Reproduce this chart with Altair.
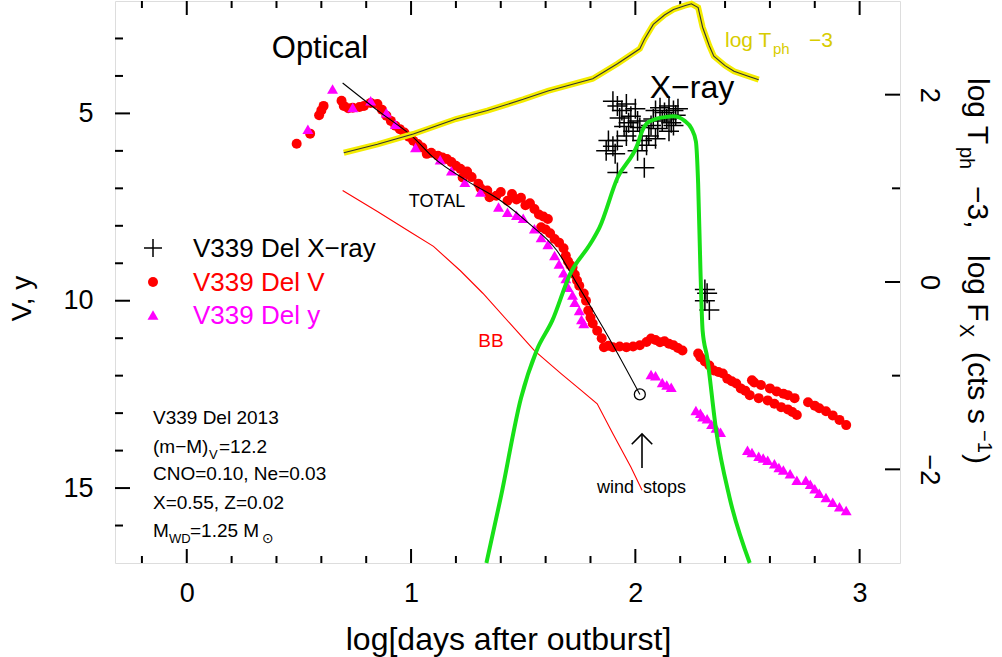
import altair as alt
import pandas as pd

# ---------------- data ----------------
v_logt = [0.49, 0.55, 0.59, 0.60, 0.61, 0.69, 0.70, 0.72, 0.74, 0.77, 0.79, 0.82, 0.85, 0.87,
          0.89, 0.91, 0.93, 0.95, 0.97, 0.99, 1.01, 1.03, 1.05, 1.07, 1.09, 1.12, 1.14, 1.16,
          1.18, 1.20, 1.22, 1.23, 1.25, 1.27, 1.30, 1.31, 1.34, 1.35, 1.38, 1.40, 1.43, 1.45,
          1.47, 1.49, 1.51, 1.53, 1.55, 1.57, 1.59, 1.61, 1.58, 1.60, 1.62, 1.64, 1.66, 1.68,
          1.69, 1.70, 1.71, 1.72, 1.73, 1.74, 1.75, 1.77, 1.78, 1.79, 1.80, 1.81, 1.83, 1.85,
          1.86, 1.88, 1.90, 1.93, 1.96, 1.99, 2.02, 2.05, 2.07, 2.09, 2.11, 2.13, 2.15, 2.17,
          2.19, 2.21, 2.28, 2.29, 2.31, 2.33, 2.35, 2.37, 2.39, 2.41, 2.43, 2.45, 2.47, 2.49,
          2.52, 2.53, 2.56, 2.60, 2.63, 2.66, 2.68, 2.71, 2.51, 2.55, 2.59, 2.62, 2.65, 2.68,
          2.70, 2.72, 2.77, 2.80, 2.82, 2.85, 2.88, 2.91, 2.94]
v_mag = [5.81, 5.54, 5.05, 4.92, 4.80, 4.66, 4.80, 4.86, 4.85, 4.83, 4.80, 4.72, 4.75, 4.90,
         5.06, 5.20, 5.33, 5.42, 5.51, 5.62, 5.73, 5.82, 5.91, 6.08, 6.05, 6.13, 6.18, 6.22,
         6.30, 6.40, 6.48, 6.71, 6.55, 6.70, 6.88, 7.00, 7.06, 7.24, 7.20, 7.10, 7.33, 7.15,
         7.30, 7.25, 7.45, 7.40, 7.55, 7.70, 7.75, 7.82, 8.04, 8.10, 8.20, 8.35, 8.45, 8.60,
         8.80, 8.95, 9.05, 9.11, 9.30, 9.46, 9.60, 9.81, 10.00, 10.26, 10.45, 10.61, 10.80, 11.00,
         11.24, 11.20, 11.24, 11.22, 11.24, 11.22, 11.19, 11.10, 11.01, 11.05, 11.11, 11.08, 11.15, 11.19,
         11.26, 11.33, 11.41, 11.51, 11.62, 11.73, 11.86, 11.90, 11.94, 12.08, 12.15, 12.21, 12.34, 12.40,
         12.12, 12.18, 12.25, 12.34, 12.42, 12.48, 12.52, 12.60, 12.52, 12.60, 12.66, 12.75, 12.84, 12.90,
         12.97, 13.05, 12.71, 12.80, 12.87, 12.95, 13.06, 13.18, 13.32]

y_logt = [0.54, 0.65, 0.74, 0.82, 0.89, 0.93, 1.02, 1.13, 1.18, 1.24, 1.31, 1.39, 1.43, 1.47,
          1.50, 1.55, 1.58, 1.61, 1.64, 1.66, 1.68, 1.69, 1.70, 1.72, 1.73, 1.75, 1.76, 1.77,
          2.07, 2.09, 2.12, 2.14, 2.16,
          2.27, 2.29, 2.30, 2.32, 2.34, 2.36, 2.38,
          2.50, 2.52, 2.55, 2.57, 2.59, 2.62, 2.64, 2.66, 2.69, 2.72,
          2.76, 2.78, 2.80, 2.82, 2.85, 2.88, 2.91, 2.94]
y_mag = [5.42, 4.35, 4.84, 4.66, 4.98, 5.29, 5.91, 6.24, 6.53, 6.84, 7.10, 7.50, 7.64, 7.72,
         7.80, 8.08, 8.31, 8.50, 8.79, 9.02, 9.25, 9.41, 9.64, 9.85, 10.04, 10.26, 10.50, 10.61,
         11.97, 12.00, 12.18, 12.25, 12.31,
         12.93, 13.00, 13.10, 13.15, 13.30, 13.40, 13.51,
         13.99, 14.05, 14.15, 14.20, 14.26, 14.35, 14.45, 14.52, 14.62, 14.79,
         14.79, 14.90, 15.02, 15.14, 15.25, 15.38, 15.50, 15.60]

xr_logt = [1.90, 1.92, 1.94, 1.96, 1.98, 2.00, 1.97, 2.01, 2.02, 1.99, 1.88, 1.90, 1.92, 1.87,
           1.91, 1.92, 2.04, 2.01, 2.05, 2.06, 2.08, 2.09, 2.11, 2.13, 2.15, 2.17, 2.18, 2.19,
           2.17, 2.15, 2.10, 2.12, 2.07, 1.96, 2.03, 2.09, 1.93, 1.95, 2.14, 2.16,
           2.31, 2.32, 2.33, 2.31]
xr_flux = [1.93, 1.88, 1.83, 1.90, 1.77, 1.85, 1.70, 1.72, 1.65, 1.61, 1.51, 1.45, 1.51, 1.40,
           1.37, 1.17, 1.22, 1.40, 1.46, 1.56, 1.74, 1.83, 1.86, 1.81, 1.88, 1.83, 1.78, 1.85,
           1.67, 1.61, 1.64, 1.72, 1.67, 1.56, 1.51, 1.53, 1.75, 1.66, 1.74, 1.70,
           -0.08, -0.12, -0.30, -0.20]

total_logt = [0.695, 0.85, 1.01, 1.10, 1.25, 1.40, 1.52, 1.65, 1.74, 1.88, 2.02]
total_mag = [4.19, 4.92, 5.64, 6.18, 6.80, 7.33, 7.91, 8.66, 9.55, 10.97, 12.50]

bb_logt = [0.695, 0.85, 1.00, 1.10, 1.22, 1.32, 1.44, 1.55, 1.67, 1.76, 1.83, 1.90, 1.98, 2.03]
bb_mag = [7.06, 7.62, 8.18, 8.55, 9.20, 9.80, 10.60, 11.33, 11.95, 12.40, 12.75, 13.55, 14.44, 15.06]

tph_logt = [0.70, 0.85, 1.01, 1.20, 1.34, 1.50, 1.61, 1.81, 1.92, 2.02, 2.04, 2.08, 2.13, 2.17,
            2.22, 2.25, 2.28, 2.30, 2.33, 2.35, 2.40, 2.44, 2.50, 2.55]
tph_val = [1.38, 1.47, 1.58, 1.74, 1.83, 1.95, 2.04, 2.17, 2.33, 2.49, 2.59, 2.75, 2.85, 2.91,
           2.95, 2.97, 2.93, 2.72, 2.52, 2.41, 2.31, 2.25, 2.20, 2.16]

fx_logt = [1.336, 1.40, 1.49, 1.56, 1.63, 1.71, 1.80, 1.84, 1.92, 2.01, 2.03, 2.05, 2.09, 2.13,
           2.17, 2.22, 2.25, 2.27, 2.28, 2.29, 2.30, 2.32, 2.36, 2.42, 2.51]
fx_val = [-3.0, -2.30, -1.24, -0.73, -0.41, 0.09, 0.41, 0.58, 1.11, 1.47, 1.61, 1.69, 1.74, 1.76,
          1.77, 1.72, 1.64, 1.50, 1.05, 0.15, -0.52, -0.80, -1.58, -2.30, -3.0]

x_major = [0, 1, 2, 3]
x_minor = [-0.2, 0.2, 0.4, 0.6, 0.8, 1.2, 1.4, 1.6, 1.8, 2.2, 2.4, 2.6, 2.8]
v_major = [5, 10, 15]
v_minor = [3, 4, 6, 7, 8, 9, 11, 12, 13, 14, 16]
r_major = [-2, 0, 2]
r_minor = [-1, 1]

# ---------------- layout ----------------
W, H = 785, 562
L0, T0 = 115, 1
FONT = "Liberation Sans, Arial, DejaVu Sans, sans-serif"
RED, MAG, GREEN, YEL = "#ff0000", "#ff00ff", "#18e018", "#f4ec00"

xs = alt.Scale(domain=[-0.32, 3.18], nice=False, zero=False)
vs = alt.Scale(domain=[2, 17], reverse=True, nice=False, zero=False)
rs = alt.Scale(domain=[-3, 3], nice=False, zero=False)


def txt(s, x, y, size, color="black", align="left", baseline="alphabetic", angle=0):
    mk = dict(align=align, baseline=baseline, fontSize=size, color=color, font=FONT)
    if angle:
        mk["angle"] = angle
    return alt.Chart(pd.DataFrame({"t": [s]})).mark_text(**mk).encode(
        x=alt.value(x - L0), y=alt.value(y - T0), text="t:N")


def df(**cols):
    return pd.DataFrame(cols)


ax_x = alt.Axis(values=x_major, format="d", ticks=False, tickSize=0, domain=False, grid=False,
                labelFont=FONT, labelFontSize=27, labelColor="black", labelPadding=17,
                title="log[days after outburst]", titleFont=FONT, titleFontSize=32,
                titleFontWeight="normal", titleColor="black", titleX=393, titleY=86,
                titleBaseline="alphabetic", titleAlign="center")
ax_v = alt.Axis(values=v_major, format="d", ticks=False, tickSize=0, domain=False, grid=False,
                labelFont=FONT, labelFontSize=27, labelColor="black", labelPadding=22,
                title="V, y", titleFont=FONT, titleFontSize=28, titleFontWeight="normal",
                titleColor="black", titleX=30 - L0, titleY=298 - T0, titleAngle=270,
                titleBaseline="alphabetic", titleAlign="center")
ax_r = alt.Axis(values=r_major, format="d", ticks=False, tickSize=0, domain=False, grid=False,
                orient="right", labelFont=FONT, labelFontSize=27, labelColor="black",
                labelPadding=14, labelAngle=90, labelAlign="center", labelBaseline="bottom",
                title="")


def X(field="t"):
    return alt.X(f"{field}:Q", scale=xs, axis=ax_x)


def YV(field="m"):
    return alt.Y(f"{field}:Q", scale=vs, axis=ax_v)


def YR(field="f"):
    return alt.Y(f"{field}:Q", scale=rs, axis=ax_r)


# ---------------- left (V, y) group ----------------
vdf = df(t=v_logt, m=v_mag)
ydf = df(t=y_logt, m=y_mag)

red_pts = alt.Chart(vdf).mark_point(filled=True, shape="circle", size=100, color=RED, opacity=1).encode(
    x=X(), y=YV())
mag_pts = alt.Chart(ydf).mark_point(filled=True, shape="triangle-up", size=120, color=MAG, opacity=1).encode(
    x=X(), y=YV())

tot = df(t=total_logt, m=total_mag, i=list(range(len(total_logt))))
total_line = alt.Chart(tot).mark_line(color="black", strokeWidth=1.1, interpolate="monotone").encode(
    x=X(), y=YV(), order="i:Q")
end_circle = alt.Chart(tot.tail(1)).mark_point(shape="circle", size=120, color="black", filled=False,
                                               strokeWidth=1.3, opacity=1).encode(x=X(), y=YV())

bb = df(t=bb_logt, m=bb_mag, i=list(range(len(bb_logt))))
bb_line = alt.Chart(bb).mark_line(color=RED, strokeWidth=1.1).encode(x=X(), y=YV(), order="i:Q")


def xticks(vals, length, top):
    d = df(t=vals)
    ya, yb = (0, length) if top else (H, H - length)
    return alt.Chart(d).mark_rule(color="black", strokeWidth=2).encode(
        x=X(), y=alt.value(ya), y2=alt.value(yb))


def yticks(vals, length, right):
    xa, xb = (W, W - length) if right else (0, length)
    if right:
        return alt.Chart(df(f=vals)).mark_rule(color="black", strokeWidth=2).encode(
            y=YR(), x=alt.value(xa), x2=alt.value(xb))
    return alt.Chart(df(m=vals)).mark_rule(color="black", strokeWidth=2).encode(
        y=YV(), x=alt.value(xa), x2=alt.value(xb))


# legend
leg_x = alt.Chart(df(k=["x"])).mark_point(shape="M-1,0L1,0M0,-1L0,1", size=324, color="black",
                                          strokeWidth=1.5, filled=False, opacity=1).encode(
    x=alt.value(153 - L0), y=alt.value(248 - T0))
leg_v = alt.Chart(df(k=["v"])).mark_point(shape="circle", size=100, color=RED, filled=True, opacity=1).encode(
    x=alt.value(153 - L0), y=alt.value(282 - T0))
leg_y = alt.Chart(df(k=["y"])).mark_point(shape="triangle-up", size=120, color=MAG, filled=True, opacity=1).encode(
    x=alt.value(153 - L0), y=alt.value(315 - T0))

YTXT = "#d8cc00"
texts = [
    txt("Optical", 320, 58, 31, align="center"),
    txt("X\u2212ray", 692, 98, 32, align="center"),
    txt("TOTAL", 437, 207, 18, align="center"),
    txt("BB", 491, 347, 19, color=RED, align="center"),
    txt("wind", 634, 493, 18, align="right"),
    txt("stops", 643, 493, 18, align="left"),
    txt("V339 Del X\u2212ray", 193, 257, 26),
    txt("V339 Del V", 193, 291, 26, color=RED),
    txt("V339 Del y", 193, 324, 26, color=MAG),
    txt("V339 Del 2013", 153, 424, 19),
    txt("CNO=0.10, Ne=0.03", 153, 480, 19),
    txt("X=0.55, Z=0.02", 153, 509, 19),
    # (m-M)_V = 12.2
    txt("(m\u2212M)", 153, 453, 19), txt("V", 209, 459, 13), txt("=12.2", 219, 453, 19),
    # M_WD = 1.25 M_sun
    txt("M", 153, 537, 19), txt("WD", 169, 543, 13), txt("=1.25 M", 190, 537, 19),
    txt("\u2299", 262, 543, 14),
    # yellow label
    txt("log T", 725, 47, 21, color=YTXT), txt("ph", 773, 54, 15, color=YTXT),
    txt("\u22123", 809, 47, 21, color=YTXT),
    # right axis title, rotated (reads top to bottom)
    txt("log T", 968, 78, 30, angle=90),
    txt("ph", 960, 147, 20, angle=90),
    txt("\u22123,", 968, 186, 30, angle=90),
    txt("log F", 968, 255, 30, angle=90),
    txt("X", 960, 324, 20, angle=90),
    txt("(cts s", 968, 352, 30, angle=90),
    txt("\u22121", 978, 430, 20, angle=90),
    txt(")", 968, 454, 30, angle=90),
]

# arrow for "wind stops"
arrow_shaft = alt.Chart(df(k=["a"])).mark_rule(color="black", strokeWidth=1.6).encode(
    x=alt.value(642 - L0), y=alt.value(468 - T0), y2=alt.value(434 - T0))
arrow_head = alt.Chart(df(k=["a"])).mark_point(shape="M-1,1L0,0L1,1", size=420, color="black",
                                               filled=False, strokeWidth=1.6, opacity=1).encode(
    x=alt.value(642 - L0), y=alt.value(434 - T0))

v_group = alt.layer(
    red_pts,
    xticks(x_major, 14, False), xticks(x_minor, 7, False),
    xticks(x_major, 14, True), xticks(x_minor, 7, True),
    yticks(v_major, 15, False), yticks(v_minor, 8, False),
    bb_line, mag_pts, total_line, end_circle,
    leg_x, leg_v, leg_y, arrow_shaft, arrow_head,
    *texts,
)

# ---------------- right (log T, log Fx) group ----------------
xr = df(t=xr_logt, f=xr_flux)
xr_pts = alt.Chart(xr).mark_point(shape="M-1,0L1,0M0,-1L0,1", size=400, color="black",
                                  strokeWidth=1.5, filled=False, opacity=1).encode(x=X(), y=YR())

fx = df(t=fx_logt, f=fx_val, i=list(range(len(fx_logt))))
fx_line = alt.Chart(fx).mark_line(color=GREEN, strokeWidth=4, interpolate="monotone").encode(
    x=X(), y=YR(), order="i:Q")

tp = df(t=tph_logt, f=tph_val, i=list(range(len(tph_logt))))
tph_glow = alt.Chart(tp).mark_line(color=YEL, strokeWidth=6).encode(x=X(), y=YR(), order="i:Q")
tph_line = alt.Chart(tp).mark_line(color="#333333", strokeWidth=1.1).encode(x=X(), y=YR(), order="i:Q")

r_group = alt.layer(
    xr_pts,
    yticks(r_major, 15, True), yticks(r_minor, 8, True),
    fx_line, tph_glow, tph_line,
)

chart = alt.layer(v_group, r_group).resolve_scale(y="independent").properties(
    width=W, height=H, autosize=alt.AutoSizeParams(type="none"),
    padding={"left": L0, "top": T0, "right": 1002 - L0 - W, "bottom": 657 - T0 - H},
).configure_view(stroke="black", strokeWidth=2).configure(background="white")

chart.save("out.html", embed_options={"renderer": "svg", "actions": False})
